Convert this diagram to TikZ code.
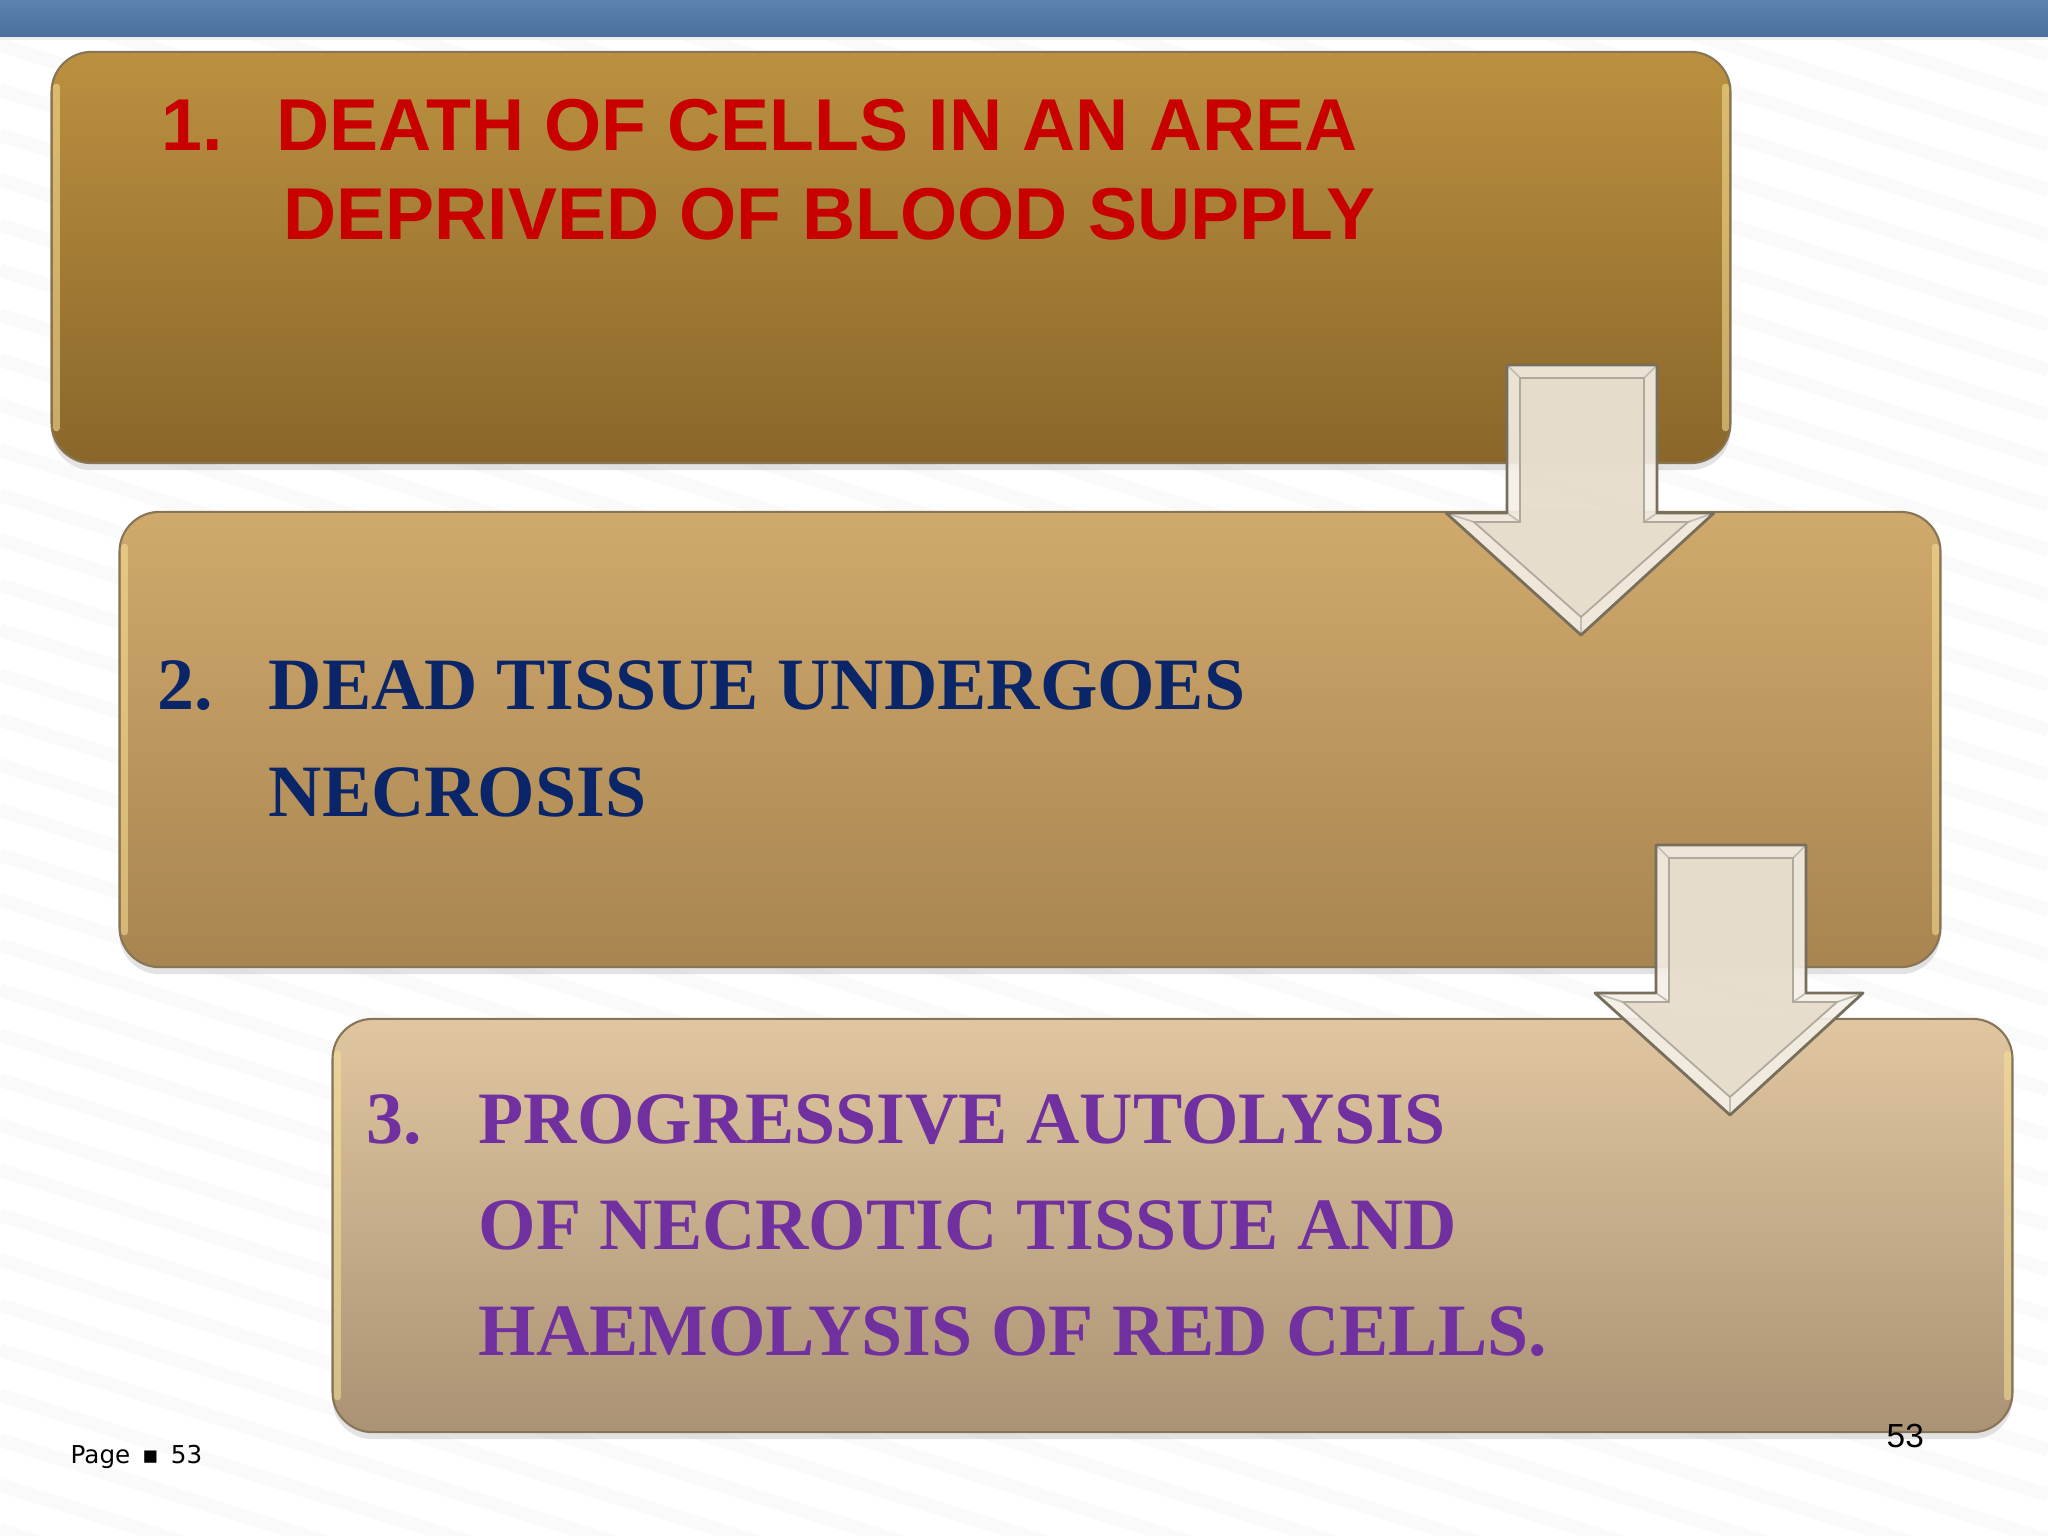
\documentclass[tikz,border=0pt]{standalone}
\usepackage{fontspec}
\setmainfont{Liberation Serif}
\newfontfamily\arialf{Liberation Sans}
\newfontfamily\dejavuf{DejaVu Sans}
\usetikzlibrary{shadows}
\definecolor{redtxt}{RGB}{200,0,0}
\definecolor{navytxt}{RGB}{10,38,104}
\definecolor{purptxt}{RGB}{112,48,160}
\definecolor{barA}{RGB}{92,130,176}
\definecolor{barB}{RGB}{74,112,158}
\definecolor{boxline}{RGB}{105,82,42}
\definecolor{b1top}{RGB}{187,144,64}
\definecolor{b1bot}{RGB}{138,102,42}
\definecolor{b2top}{RGB}{208,169,108}
\definecolor{b2bot}{RGB}{168,132,80}
\definecolor{b3top}{RGB}{224,198,160}
\definecolor{b3bot}{RGB}{170,146,116}
\definecolor{glow}{RGB}{248,226,150}
\definecolor{arrowout}{RGB}{244,240,231}
\definecolor{arrowin}{RGB}{230,220,203}
\definecolor{arrowline}{RGB}{120,110,92}
\begin{document}
\begin{tikzpicture}[x=0.01cm,y=-0.01cm,
  stripe/.style={line width=4pt, black, opacity=0.018},
  box/.style={rectangle, rounded corners=0.4cm, draw=boxline!80, line width=0.6pt,
    drop shadow={shadow xshift=0pt, shadow yshift=-2pt, opacity=0.22}},
  glowline/.style={draw=glow, line width=1.8pt, line cap=round, opacity=0.55},
  t1/.style={anchor=base west, inner sep=0pt, text=redtxt,
    font=\arialf\bfseries\fontsize{20.9pt}{20.9pt}\selectfont},
  t2/.style={anchor=base west, inner sep=0pt, text=navytxt,
    font=\bfseries\fontsize{21pt}{21pt}\selectfont},
  t3/.style={anchor=base west, inner sep=0pt, text=purptxt,
    font=\bfseries\fontsize{21pt}{21pt}\selectfont},
  foot/.style={anchor=base west, inner sep=0pt, text=black,
    font=\dejavuf\fontsize{7pt}{7pt}\selectfont},
  pagenum/.style={anchor=base west, inner sep=0pt, text=black,
    font=\arialf\fontsize{9.5pt}{9.5pt}\selectfont},
  blockarrow/.pic={
    \begin{scope}[fill opacity=0.9]
    \fill[arrowout] (1507,365) -- (1657,365) -- (1657,513) -- (1714,513) -- (1581,635) -- (1446,513) -- (1507,513) -- cycle;
    \fill[arrowin] (1520,378) -- (1644,378) -- (1644,522) -- (1688,522) -- (1581,617) -- (1474,522) -- (1520,522) -- cycle;
    \end{scope}
    \draw[arrowline!45, line width=0.5pt] (1507,365) -- (1520,378) (1657,365) -- (1644,378)
      (1657,513) -- (1644,522) (1507,513) -- (1520,522)
      (1714,513) -- (1688,522) (1446,513) -- (1474,522) (1581,635) -- (1581,617);
    \draw[arrowline!60, line width=0.5pt] (1520,378) -- (1644,378) -- (1644,522) -- (1688,522) -- (1581,617) -- (1474,522) -- (1520,522) -- cycle;
    \draw[arrowline, line width=0.8pt, line join=round] (1507,365) -- (1657,365) -- (1657,513) -- (1714,513) -- (1581,635) -- (1446,513) -- (1507,513) -- cycle;
  }]
\useasboundingbox (0,0) rectangle (2048,1536);
\fill[white] (0,0) rectangle (2048,1536);
\begin{scope}
  \clip (0,37) rectangle (2048,1536);
  \foreach \i in {-30,...,36} \draw[stripe] (0,\i*45) -- (2048,\i*45+640);
\end{scope}
\shade[top color=barA, bottom color=barB] (0,0) rectangle (2048,37);
\fill[black!6] (0,37) rectangle (2048,40);

% boxes
\node[box, top color=b1top, bottom color=b1bot, minimum width=16.78cm, minimum height=4.11cm] (b1) at (891,257.5) {};
\draw[glowline] ([shift={(6,36)}]b1.north west) -- ([shift={(6,-36)}]b1.south west);
\draw[glowline] ([shift={(-6,36)}]b1.north east) -- ([shift={(-6,-36)}]b1.south east);
\node[box, top color=b2top, bottom color=b2bot, minimum width=18.20cm, minimum height=4.55cm] (b2) at (1030,739.5) {};
\draw[glowline] ([shift={(6,36)}]b2.north west) -- ([shift={(6,-36)}]b2.south west);
\draw[glowline] ([shift={(-6,36)}]b2.north east) -- ([shift={(-6,-36)}]b2.south east);
\node[box, top color=b3top, bottom color=b3bot, minimum width=16.79cm, minimum height=4.13cm] (b3) at (1172.5,1225.5) {};
\draw[glowline] ([shift={(6,36)}]b3.north west) -- ([shift={(6,-36)}]b3.south west);
\draw[glowline] ([shift={(-6,36)}]b3.north east) -- ([shift={(-6,-36)}]b3.south east);

% arrows
\pic at (0,0) {blockarrow};
\pic at (149,480) {blockarrow};

% texts
\node[t1] (n1) at (161,150) {1.};
\node[t1] (l1a) at (276,150) {DEATH OF CELLS IN AN AREA};
\node[t1] (l1b) at (283,239) {DEPRIVED OF BLOOD SUPPLY};

\node[t2] (n2) at (157,709) {2.};
\node[t2] (l2a) at (268,709) {DEAD TISSUE UNDERGOES};
\node[t2] (l2b) at (268,816) {NECROSIS};

\node[t3] (n3) at (366,1143) {3.};
\node[t3] (l3a) at (478,1143) {PROGRESSIVE AUTOLYSIS};
\node[t3] (l3b) at (478,1249) {OF NECROTIC TISSUE AND};
\node[t3] (l3c) at (478,1355) {HAEMOLYSIS OF RED CELLS.};

\node[foot] (pg) at (70,1463) {Page\, ▪\, 53};
\node[pagenum] (num) at (1886,1447) {53};
\end{tikzpicture}
\end{document}
